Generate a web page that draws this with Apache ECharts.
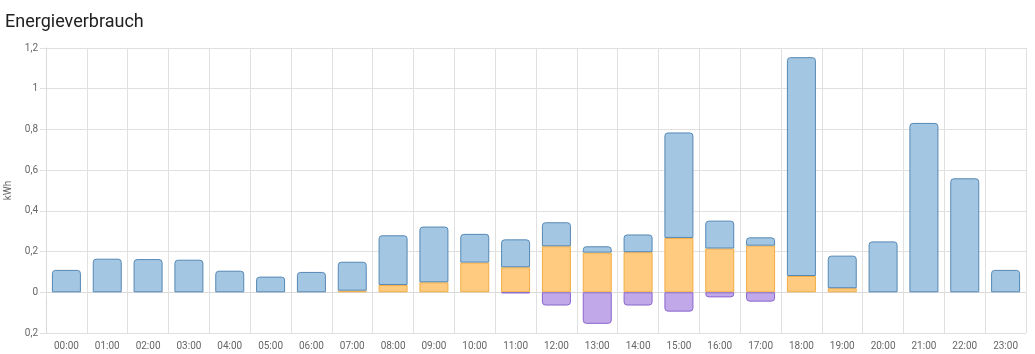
<!DOCTYPE html>
<html>
<head>
<meta charset="utf-8">
<script src="https://cdn.jsdelivr.net/npm/echarts@6/dist/echarts.min.js"></script>
<style>
  html, body { margin: 0; padding: 0; background: #fff; }
  #chart { width: 1035px; height: 354px; }
</style>
</head>
<body>
<div id="chart"></div>
<script>
const hours = ['00:00', '01:00', '02:00', '03:00', '04:00', '05:00', '06:00', '07:00',
  '08:00', '09:00', '10:00', '11:00', '12:00', '13:00', '14:00', '15:00',
  '16:00', '17:00', '18:00', '19:00', '20:00', '21:00', '22:00', '23:00'];

// kWh per hour, null = nothing in that hour
const solar = [null, null, null, null, null, null, null, 0.008, 0.036, 0.049, 0.146, 0.123,
  0.226, 0.195, 0.197, 0.267, 0.215, 0.229, 0.08, 0.02, null, null, null, null];
const grid = [0.11, 0.165, 0.163, 0.16, 0.106, 0.077, 0.10, 0.142, 0.244, 0.274, 0.141, 0.137,
  0.118, 0.031, 0.087, 0.518, 0.137, 0.041, 1.075, 0.16, 0.25, 0.832, 0.56, 0.11];
const returned = [null, null, null, null, null, null, null, null, null, null, null, -0.005,
  -0.065, -0.155, -0.065, -0.095, -0.025, -0.046, null, null, null, null, null, null];

const chart = echarts.init(document.getElementById('chart'));

const fmt = v => String(Math.round(Math.abs(v) * 10) / 10).replace('.', ',');

chart.setOption({
  animation: false,
  title: {
    text: 'Energieverbrauch',
    left: 0,
    top: 8,
    textStyle: { fontFamily: 'Roboto', fontSize: 18, fontWeight: 'normal', color: '#212121' }
  },
  grid: { left: 46, right: 9, top: 48, bottom: 21, containLabel: false, outerBoundsMode: 'none' },
  xAxis: {
    type: 'category',
    data: hours,
    axisLine: { lineStyle: { color: '#d9d9d9' } },
    axisTick: { show: true, length: 6, lineStyle: { color: '#e0e0e0' } },
    splitLine: { show: true, lineStyle: { color: '#e0e0e0' } },
    axisLabel: { fontFamily: 'Roboto', fontSize: 10, color: '#666', margin: 8 }
  },
  yAxis: {
    type: 'value',
    min: -0.2,
    max: 1.2,
    interval: 0.2,
    name: 'kWh',
    nameLocation: 'middle',
    nameGap: 30,
    nameTextStyle: { fontFamily: 'Roboto', fontSize: 10, color: '#666' },
    axisLine: { show: true, lineStyle: { color: '#d9d9d9' } },
    axisTick: { show: true, length: 6, lineStyle: { color: '#e0e0e0' } },
    splitLine: { lineStyle: { color: '#e0e0e0' } },
    axisLabel: { fontFamily: 'Roboto', fontSize: 10, color: '#666', margin: 8, formatter: fmt }
  },
  series: [
    {
      name: 'Solar',
      type: 'bar',
      stack: 'energy',
      data: solar,
      barCategoryGap: '29%',
      itemStyle: { color: '#ffcb80', borderColor: '#f2ad45', borderWidth: 1 }
    },
    {
      name: 'Netz',
      type: 'bar',
      stack: 'energy',
      data: grid,
      itemStyle: { color: '#a3c7e3', borderColor: '#5688b4', borderWidth: 1, borderRadius: [3, 3, 0, 0] }
    },
    {
      name: 'Einspeisung',
      type: 'bar',
      stack: 'energy',
      data: returned,
      itemStyle: { color: '#c1a9e9', borderColor: '#8a66cc', borderWidth: 1, borderRadius: [0, 0, 3, 3] }
    }
  ]
});
</script>
</body>
</html>
